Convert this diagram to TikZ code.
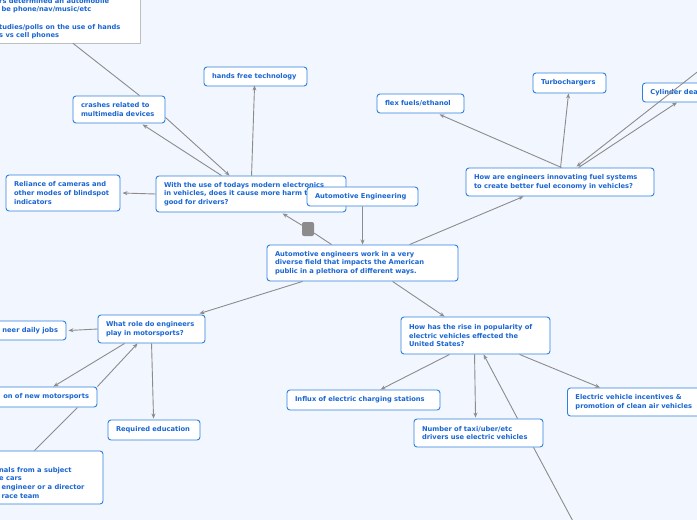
\documentclass[tikz,border=0pt]{standalone}
\usepackage{fontspec}
\setmainfont{DejaVu Sans}
\usetikzlibrary{arrows.meta,calc}
\definecolor{bg}{HTML}{F2F6FE}
\definecolor{bc}{HTML}{2E80E0}
\definecolor{tc}{HTML}{1A66D2}
\definecolor{ac}{HTML}{8C8C8C}
\tikzset{
  box/.style={draw=bc,fill=white,rounded corners=3pt,line width=0.9pt,text=tc,
    font=\fontsize{6.7}{8.6}\selectfont\bfseries,align=left,inner xsep=8pt,inner ysep=2pt},
  txt/.style={text=tc,font=\fontsize{6.7}{8.6}\selectfont\bfseries,align=left,inner sep=0pt},
  arr/.style={draw=ac,line width=0.9pt,-{Stealth[length=5pt,width=4pt]}},
  ln/.style={draw=ac,line width=0.9pt}
}
\begin{document}
\begin{tikzpicture}[x=1pt,y=-1pt]
\fill[bg] (0,0) rectangle (697,520);
\useasboundingbox (0,0) rectangle (697,520);
\clip (0,0) rectangle (697,520);
% nodes
\node[draw=gray!50,fill=white,minimum width=150pt,minimum height=53pt,inner sep=0pt] (tl) at (65,16.5) {};
\node[txt,anchor=north west] (tlt) at (-1,-2) {rs determined an automobile\\ \ be phone/nav/music/etc\\[8.6pt]tudies/polls on the use of hands\\s vs cell phones};
\node[box,minimum width=92pt,minimum height=27pt,text width=76pt] (crash) at (119,109.5) {crashes related to\\multimedia devices};
\node[box,minimum width=103pt,minimum height=19pt,text width=87pt] (hands) at (255.5,76.5) {hands free technology};
\node[box,minimum width=114pt,minimum height=36pt,text width=98pt] (rel) at (63,193) {Reliance of cameras and\\other modes of blindspot\\indicators};
\node[box,minimum width=190pt,minimum height=36pt,text width=174pt] (with) at (251,194) {With the use of todays modern electronics\\in vehicles, does it cause more harm than\\good for drivers?};
\node[box,minimum width=111pt,minimum height=19pt,text width=95pt] (ae) at (362.5,196.5) {Automotive Engineering};
\node[box,minimum width=191pt,minimum height=36pt,text width=175pt] (cen) at (362.5,263) {Automotive engineers work in a very\\diverse field that impacts the American\\public in a plethora of different ways.};
\node[box,minimum width=87pt,minimum height=19pt,text width=71pt] (flex) at (420.5,103.5) {flex fuels/ethanol};
\node[box,minimum width=73pt,minimum height=20pt,text width=57pt] (turbo) at (569.5,83) {Turbochargers};
\node[box,minimum width=68pt,minimum height=19pt,text width=90pt,anchor=west] (cyl) at (642,92.5) {Cylinder deactivation};
\node[box,minimum width=186pt,minimum height=28pt,text width=172pt] (howare) at (560,182) {How are engineers innovating fuel systems\\to create better fuel economy in vehicles?};
\node[box,minimum width=107pt,minimum height=28pt,text width=91pt] (role) at (151.5,329) {What role do engineers\\play in motorsports?};
\node[box,minimum width=96pt,minimum height=19pt,text width=80pt,align=right] (daily) at (18,330.5) {neer daily jobs};
\node[box,minimum width=137pt,minimum height=20pt,text width=121pt,align=right] (newm) at (28.5,397) {on of new motorsports};
\node[box,minimum width=92pt,minimum height=20pt,text width=76pt] (req) at (154,430) {Required education};
\node[box,minimum width=133pt,minimum height=53pt] (bl) at (36.5,477.5) {};
\node[txt,anchor=north west] (blt) at (-1,467) {nals from a subject\\e cars\\ \ engineer or a director\\ \ race team};
\node[box,minimum width=145pt,minimum height=37pt,text width=133pt] (has) at (475.5,335.5) {How has the rise in popularity of\\electric vehicles effected the\\United States?};
\node[box,minimum width=151pt,minimum height=20pt,text width=137pt] (influx) at (363.5,400) {Influx of electric charging stations};
\node[box,minimum width=125pt,minimum height=28pt,text width=113pt] (num) at (478.5,433) {Number of taxi/uber/etc\\drivers use electric vehicles};
\node[box,minimum width=133pt,minimum height=28pt,text width=130pt,anchor=west] (elec) at (567,402) {Electric vehicle incentives \&\\promotion of clean air vehicles};
\node[fill=ac,rounded corners=2pt,minimum width=12pt,minimum height=14pt,inner sep=0pt] (sq) at (308,229) {};
\coordinate (offr) at (710,62);
\coordinate (offb) at (575,525);
% connectors
\draw[ln] ($(tl.south west)+(83,0)$) -- ($(crash.north west)+(67,0)$);
\draw[arr] ($(crash.south east)+(0,-6)$) -- ($(with.north west)+(74,0)$);
\draw[arr] ($(with.north west)+(66,0)$) -- ($(crash.south west)+(70,1)$);
\draw[arr] ($(with.north west)+(96,0)$) -- ($(hands.south west)+(51,-1)$);
\draw[arr] (with.west) -- ($(rel.east)+(2,0)$);
\draw[ln] ($(cen.north west)+(65,0)$) -- (sq);
\draw[arr] (sq) -- ($(with.south west)+(127,1)$);
\draw[arr] (ae.south) -- ($(cen.north west)+(96,0)$);
\draw[arr] ($(cen.north west)+(143,0)$) -- ($(howare.south west)+(58,0)$);
\draw[arr] ($(howare.north west)+(96,0)$) -- ($(flex.south west)+(63,1)$);
\draw[arr] ($(howare.north west)+(95,0)$) -- ($(turbo.south west)+(36,0)$);
\draw[arr] ($(howare.north west)+(113,0)$) -- ($(cyl.south west)+(35,0)$);
\draw[arr] (offr) -- ($(howare.north west)+(111,-1)$);
\draw[arr] ($(cen.south west)+(36,0)$) -- ($(role.north east)+(-6,-1)$);
\draw[arr] ($(cen.south west)+(126,0)$) -- ($(has.north west)+(44,0)$);
\draw[arr] (role.west) -- ($(daily.east)+(2,0)$);
\draw[arr] ($(role.south west)+(27,0)$) -- ($(newm.north east)+(-44,0)$);
\draw[arr] ($(newm.north east)+(0,0)$) -- ($(role.south west)+(40,0)$);
\draw[arr] ($(role.south west)+(54,0)$) -- ($(req.north west)+(46,-1)$);
\draw[ln] ($(newm.south east)+(-20,0)$) -- ($(bl.north west)+(65,0)$);
\draw[arr] ($(has.south west)+(49,0)$) -- ($(influx.north west)+(94,0)$);
\draw[arr] ($(has.south west)+(74,0)$) -- ($(num.north west)+(62,-1)$);
\draw[arr] ($(num.north west)+(104,0)$) -- ($(has.south west)+(83,0)$);
\draw[arr] ($(has.south west)+(119,0)$) -- ($(elec.north west)+(33,0)$);
\draw[ln] ($(num.south west)+(120,0)$) -- (offb);
\end{tikzpicture}
\end{document}
